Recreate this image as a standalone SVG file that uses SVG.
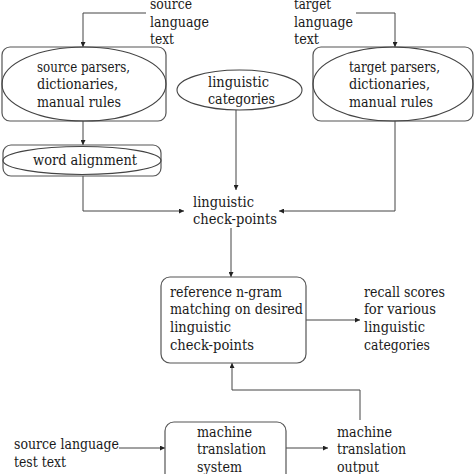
<svg xmlns="http://www.w3.org/2000/svg" width="474" height="474" viewBox="0 0 474 474">
<style>
.t{font-family:'DejaVu Serif',serif;font-size:15.5px;fill:#1a1a1a}
.box{fill:none;stroke:#555;stroke-width:1.2}
.el{fill:none;stroke:#444;stroke-width:1.1}
.c{fill:none;stroke:#444;stroke-width:1}
</style>
<defs>
<marker id="ah" viewBox="0 0 10 10" refX="10" refY="5" markerWidth="6" markerHeight="5" markerUnits="userSpaceOnUse" orient="auto">
<path d="M0,0 L10,5 L0,10 z" fill="#222"/>
</marker>
</defs>
<rect width="474" height="474" fill="#fff"/>
<g id="connectors">
<path class="c" d="M146,13 H83 V47" marker-end="url(#ah)"/>
<path class="c" d="M356,13 H395 V47" marker-end="url(#ah)"/>
<path class="c" d="M83,121 V145" marker-end="url(#ah)"/>
<path class="c" d="M83,176 V211 H184" marker-end="url(#ah)"/>
<path class="c" d="M395,121 V211 H279" marker-end="url(#ah)"/>
<path class="c" d="M236,110 V190" marker-end="url(#ah)"/>
<path class="c" d="M231,228 V277" marker-end="url(#ah)"/>
<path class="c" d="M306,320 H360" marker-end="url(#ah)"/>
<path class="c" d="M360,420 V390 H232 V363" marker-end="url(#ah)"/>
<path class="c" d="M119,448 H165" marker-end="url(#ah)"/>
<path class="c" d="M286,448 H328" marker-end="url(#ah)"/>
</g>
<g id="source-text">
<text class="t" x="150" y="9" textLength="42" lengthAdjust="spacingAndGlyphs">source</text>
<text class="t" x="150" y="27" textLength="59" lengthAdjust="spacingAndGlyphs">language</text>
<text class="t" x="150" y="44" textLength="24" lengthAdjust="spacingAndGlyphs">text</text>
</g>
<g id="target-text">
<text class="t" x="294" y="9" textLength="37" lengthAdjust="spacingAndGlyphs">target</text>
<text class="t" x="294" y="27" textLength="59" lengthAdjust="spacingAndGlyphs">language</text>
<text class="t" x="294" y="44" textLength="25" lengthAdjust="spacingAndGlyphs">text</text>
</g>
<g id="source-parsers">
<rect class="box" x="2" y="47" width="164" height="74" rx="8"/>
<ellipse class="el" cx="84" cy="84" rx="82" ry="37"/>
<text class="t" x="37" y="72" textLength="93" lengthAdjust="spacingAndGlyphs">source parsers,</text>
<text class="t" x="37" y="89" textLength="81" lengthAdjust="spacingAndGlyphs">dictionaries,</text>
<text class="t" x="37" y="107" textLength="84" lengthAdjust="spacingAndGlyphs">manual rules</text>
</g>
<g id="target-parsers">
<rect class="box" x="313" y="47" width="160" height="74" rx="8"/>
<ellipse class="el" cx="393" cy="84" rx="80" ry="37"/>
<text class="t" x="349" y="72" textLength="91" lengthAdjust="spacingAndGlyphs">target parsers,</text>
<text class="t" x="349" y="89" textLength="81" lengthAdjust="spacingAndGlyphs">dictionaries,</text>
<text class="t" x="349" y="107" textLength="84" lengthAdjust="spacingAndGlyphs">manual rules</text>
</g>
<g id="linguistic-categories">
<ellipse class="el" cx="239.5" cy="90" rx="62.5" ry="20"/>
<text class="t" x="208" y="87" textLength="61" lengthAdjust="spacingAndGlyphs">linguistic</text>
<text class="t" x="208" y="104" textLength="67" lengthAdjust="spacingAndGlyphs">categories</text>
</g>
<g id="word-alignment">
<rect class="box" x="3" y="145" width="158" height="31" rx="8"/>
<ellipse class="el" cx="82" cy="160.5" rx="79" ry="14"/>
<text class="t" x="33" y="165" textLength="104" lengthAdjust="spacingAndGlyphs">word alignment</text>
</g>
<g id="check-points">
<text class="t" x="193" y="207" textLength="61" lengthAdjust="spacingAndGlyphs">linguistic</text>
<text class="t" x="193" y="224" textLength="84" lengthAdjust="spacingAndGlyphs">check-points</text>
</g>
<g id="reference-matching">
<rect class="box" x="161" y="277" width="145" height="86" rx="9"/>
<text class="t" x="170" y="297" textLength="112" lengthAdjust="spacingAndGlyphs">reference n-gram</text>
<text class="t" x="170" y="314" textLength="133" lengthAdjust="spacingAndGlyphs">matching on desired</text>
<text class="t" x="170" y="332" textLength="61" lengthAdjust="spacingAndGlyphs">linguistic</text>
<text class="t" x="170" y="350" textLength="84" lengthAdjust="spacingAndGlyphs">check-points</text>
</g>
<g id="recall-scores">
<text class="t" x="364" y="297" textLength="81" lengthAdjust="spacingAndGlyphs">recall scores</text>
<text class="t" x="364" y="314" textLength="72" lengthAdjust="spacingAndGlyphs">for various</text>
<text class="t" x="364" y="332" textLength="61" lengthAdjust="spacingAndGlyphs">linguistic</text>
<text class="t" x="364" y="350" textLength="66" lengthAdjust="spacingAndGlyphs">categories</text>
</g>
<g id="source-test">
<text class="t" x="14" y="449" textLength="105" lengthAdjust="spacingAndGlyphs">source language</text>
<text class="t" x="14" y="467" textLength="52" lengthAdjust="spacingAndGlyphs">test text</text>
</g>
<g id="mt-system">
<rect class="box" x="165" y="422" width="121" height="70" rx="9"/>
<text class="t" x="197" y="437" textLength="55" lengthAdjust="spacingAndGlyphs">machine</text>
<text class="t" x="197" y="454" textLength="69" lengthAdjust="spacingAndGlyphs">translation</text>
<text class="t" x="197" y="472" textLength="45" lengthAdjust="spacingAndGlyphs">system</text>
</g>
<g id="mt-output">
<text class="t" x="337" y="437" textLength="55" lengthAdjust="spacingAndGlyphs">machine</text>
<text class="t" x="337" y="454" textLength="69" lengthAdjust="spacingAndGlyphs">translation</text>
<text class="t" x="337" y="472" textLength="42" lengthAdjust="spacingAndGlyphs">output</text>
</g>
</svg>
